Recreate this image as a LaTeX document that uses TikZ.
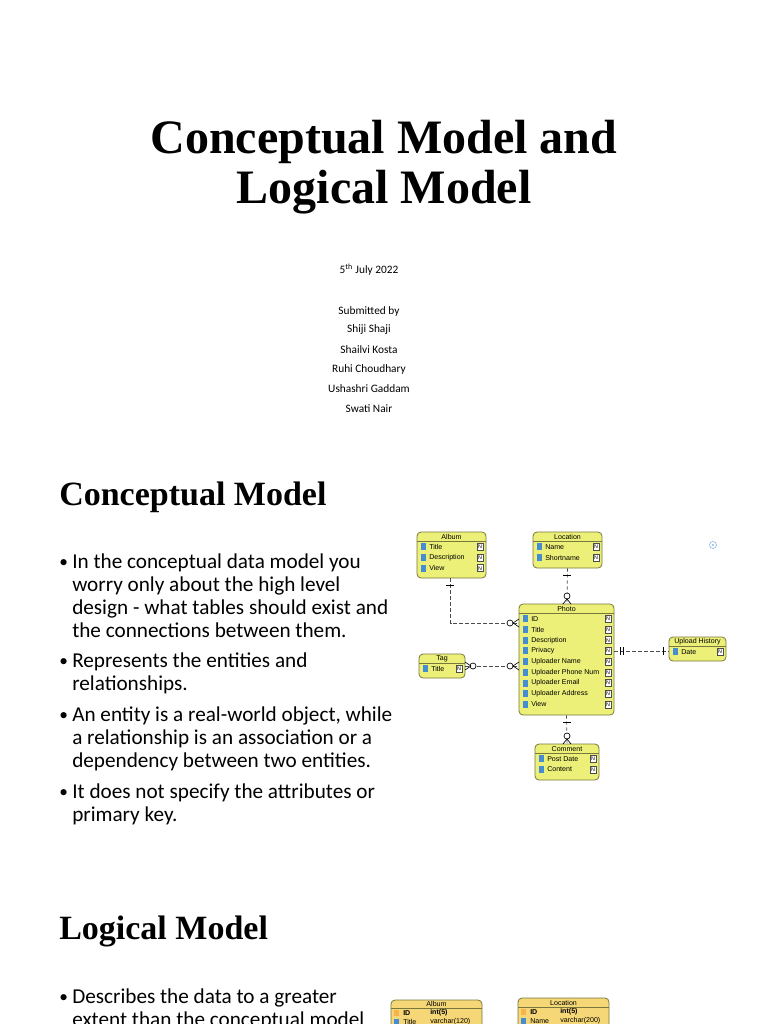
\documentclass[tikz,border=0pt]{standalone}
\usepackage{fontspec}
\setmainfont{Carlito}
\newfontfamily\titlefont{Liberation Serif}
\newfontfamily\erfont{Liberation Sans}
\usetikzlibrary{fit,calc}
\definecolor{erfill}{RGB}{236,240,120}
\definecolor{erline}{RGB}{120,120,60}
\definecolor{lgfill}{RGB}{245,215,120}
\definecolor{iconblue}{RGB}{70,140,210}
\tikzset{
 erbox/.style={draw=erline,fill=erfill,rounded corners=3pt,line width=0.6pt},
 erlink/.style={dash pattern=on 2.5pt off 2pt,draw=black!70,line width=0.5pt},
 ertxt/.style={font=\erfont\fontsize{5.3}{6}\selectfont,inner sep=0pt},
 bodytxt/.style={anchor=base west,inner sep=0pt,font=\fontsize{15.9}{18}\selectfont},
 smalltxt/.style={inner sep=0pt,font=\fontsize{8.5}{10}\selectfont},
 headtxt/.style={anchor=west,inner sep=0pt,font=\titlefont\bfseries\fontsize{25.5}{30}\selectfont},
}
\newcommand\erent[8][erfill]{%
 \draw[erbox,fill=#1] (#4,#5) rectangle (#6,#7);
 \node[fit={(#4,#5)(#6,#7)},inner sep=0pt] (#2) {};
 \node[ertxt] at ({(#4+#6)/2},#5+4.7) {#3};
 \draw[erline,line width=0.4pt] (#4,#5+9.5) -- (#6,#5+9.5);
 \foreach \t [count=\i] in {#8} {
   \pgfmathsetmacro\yy{#5+9.5+(\i-0.5)*10.7}
   \fill[iconblue] (#4+4,\yy-3.5) rectangle (#4+9,\yy+3.5);
   \node[ertxt,anchor=west] at (#4+12,\yy) {\t};
   \draw[black!70,line width=0.4pt,fill=white] (#6-9,\yy-3.5) rectangle (#6-3,\yy+3.5);
   \node[ertxt,font=\erfont\fontsize{4}{4}\selectfont] at (#6-6,\yy) {N};
 }}
\begin{document}
\begin{tikzpicture}[x=0.75pt,y=-0.75pt]
\useasboundingbox[fill=white] (0,0) rectangle (768,1024);
\node[font=\titlefont\bfseries\fontsize{36}{40}\selectfont,inner sep=0pt] (t1) at (384,142) {Conceptual Model and};
\node[font=\titlefont\bfseries\fontsize{36}{40}\selectfont,inner sep=0pt] (t2) at (384,192) {Logical Model};
\node[smalltxt] (d) at (369,270) {5\textsuperscript{th} July 2022};
\node[smalltxt] (s0) at (369,311) {Submitted by};
\node[smalltxt] (s1) at (369,330) {Shiji Shaji};
\node[smalltxt] (s2) at (369,350) {Shailvi Kosta};
\node[smalltxt] (s3) at (369,369) {Ruhi Choudhary};
\node[smalltxt] (s4) at (369,389) {Ushashri Gaddam};
\node[smalltxt] (s5) at (369,409) {Swati Nair};
\node[headtxt] (h1) at (59,497) {Conceptual Model};
\node[headtxt] (h2) at (59,931) {Logical Model};
\foreach \y/\b/\t in {568/1/In the conceptual data model you, 591/0/worry only about the high level, 614/0/design - what tables should exist and, 637/0/the connections between them., 667/1/Represents the entities and, 690/0/relationships., 721/1/{An entity is a real-world object, while}, 744/0/a relationship is an association or a, 767/0/dependency between two entities., 798/1/It does not specify the attributes or, 821/0/primary key., 1003/1/Describes the data to a greater, 1026/0/extent than the conceptual model}{
  \node[bodytxt] at (72,\y) {\t};
  \ifnum\b=1 \node[bodytxt,font=\fontsize{13}{14}\selectfont] at (59,\y-1) {•};\fi
}
% ER diagram
\erent{album}{Album}{417}{532}{486}{578}{Title,Description,View}
\erent{loc}{Location}{533}{532}{602}{568}{Name,Shortname}
\erent{photo}{Photo}{519}{604}{614}{715}{ID,Title,Description,Privacy,Uploader Name,Uploader Phone Num,Uploader Email,Uploader Address,View}
\erent{upl}{Upload History}{669}{637}{726}{661}{Date}
\erent{tag}{Tag}{419}{654}{465}{678}{Title}
\erent{com}{Comment}{535}{744}{599}{780}{Post Date,Content}
\draw[erlink] ($(album.south)+(-1,0)$) |- ($(photo.west)+(0,-36)$);
\draw[erlink] ($(loc.south)$) -- ($(photo.north)+(0.5,0)$);
\draw[erlink] (tag.east) -- ($(photo.west)+(0,6.5)$);
\draw[erlink] ($(photo.east)+(0,-8.5)$) -- ($(upl.west)+(0,2)$);
\draw[erlink] ($(photo.south)$) -- ($(com.north)$);
% markers
\begin{scope}[line width=0.5pt]
\draw (446,585) -- (454,585);
\draw[fill=white] (510,623) circle (3); \draw (513,623) -- (519,619) (513,623) -- (519,627);
\draw (563,575) -- (571,575);
\draw[fill=white] (567,596) circle (3); \draw (567,599) -- (563,604) (567,599) -- (571,604);
\draw[fill=white] (473,666) circle (3); \draw (471,666) -- (465,662) (471,666) -- (465,670);
\draw[fill=white] (510,666) circle (3); \draw (513,666) -- (519,662) (513,666) -- (519,670);
\draw (620,647) -- (620,655) (623,647) -- (623,655);
\draw (663,647) -- (663,655);
\draw (563,722) -- (571,722);
\draw[fill=white] (567,736) circle (3); \draw (567,739) -- (563,744) (567,739) -- (571,744);
\draw[iconblue!60] (713,545) circle (3.5); \fill[iconblue!60] (713,545) circle (1.2);
\end{scope}
% logical model (cut off)
\begin{scope}
\clip (0,0) rectangle (768,1024);
\draw[erbox,fill=lgfill] (391,1000) rectangle (482,1040);
\node[ertxt] (la) at (436.5,1004) {Album};
\draw[erline] (391,1008) -- (482,1008);
\node[ertxt,anchor=west] at (403,1013) {\textbf{ID}}; \node[ertxt,anchor=west] at (430,1013) {\textbf{int(5)}};
\node[ertxt,anchor=west] at (403,1022) {Title}; \node[ertxt,anchor=west] at (430,1022) {varchar(120)};
\fill[lgfill!60!orange] (394,1010) rectangle (399,1016);
\fill[iconblue] (394,1019) rectangle (399,1025);
\draw[erbox,fill=lgfill] (518,998) rectangle (609,1040);
\node[ertxt] (ll) at (563.5,1003) {Location};
\draw[erline] (518,1007) -- (609,1007);
\node[ertxt,anchor=west] at (530,1012) {\textbf{ID}}; \node[ertxt,anchor=west] at (560,1012) {\textbf{int(5)}};
\node[ertxt,anchor=west] at (530,1021) {Name}; \node[ertxt,anchor=west] at (560,1021) {varchar(200)};
\fill[lgfill!60!orange] (521,1009) rectangle (526,1015);
\fill[iconblue] (521,1018) rectangle (526,1024);
\end{scope}
\end{tikzpicture}
\end{document}
